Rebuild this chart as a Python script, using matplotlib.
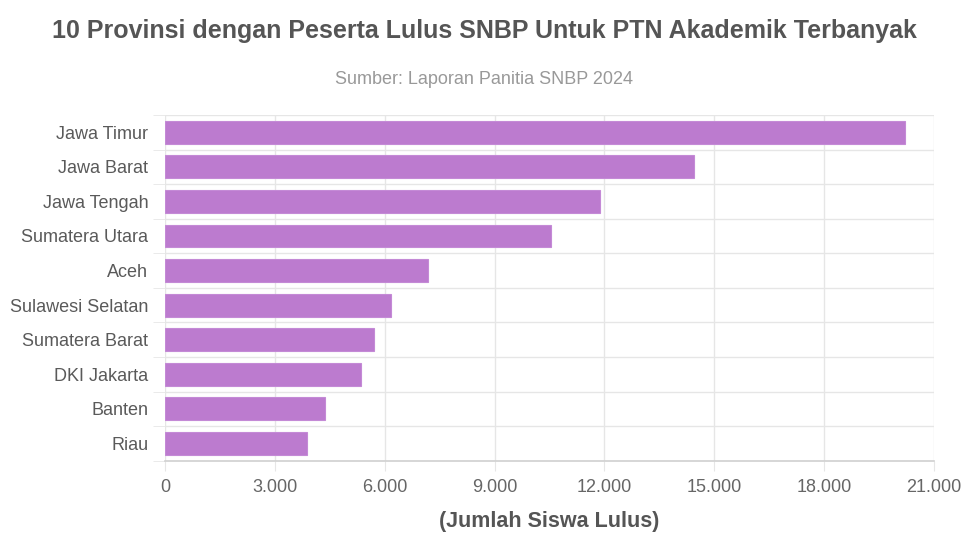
# Grafik batang horizontal: 10 provinsi dengan peserta lulus SNBP terbanyak
import matplotlib.pyplot as plt
from matplotlib.ticker import FuncFormatter, FixedLocator

plt.rcParams['font.family'] = ['Liberation Sans', 'DejaVu Sans']

# data
provinsi = ['Jawa Timur', 'Jawa Barat', 'Jawa Tengah', 'Sumatera Utara', 'Aceh',
            'Sulawesi Selatan', 'Sumatera Barat', 'DKI Jakarta', 'Banten', 'Riau']
jumlah_lulus = [20200, 14450, 11890, 10545, 7180, 6165, 5710, 5365, 4380, 3865]
ticks_x = [0, 3000, 6000, 9000, 12000, 15000, 18000, 21000]

fig = plt.figure(figsize=(9.68, 5.43), dpi=100)
ax = fig.add_axes([0.1705, 0.1516, 0.7944, 0.6366])

pos = list(range(len(provinsi)))
ax.barh(pos, jumlah_lulus, height=0.66, color='#bc7bcf', edgecolor='#c48ad6',
        linewidth=0.8, zorder=3)

ax.set_xlim(0, 21000)
ax.set_ylim(len(provinsi) - 0.5, -0.5)
ax.set_xticks(ticks_x)
ax.xaxis.set_major_formatter(FuncFormatter(lambda v, p: f'{int(v):,}'.replace(',', '.')))
ax.set_yticks(pos)
ax.set_yticklabels(provinsi)
ax.yaxis.set_minor_locator(FixedLocator([i - 0.5 for i in range(len(provinsi) + 1)]))

ax.grid(axis='x', color='#e6e6e6', linewidth=1, zorder=0)
ax.grid(axis='y', which='minor', color='#e6e6e6', linewidth=1, zorder=0)

for s in ['top', 'right', 'left']:
    ax.spines[s].set_visible(False)
ax.spines['bottom'].set_color('#d0d0d0')
ax.spines['bottom'].set_linewidth(1.2)

ax.tick_params(axis='x', length=7, color='#e6e6e6', labelsize=13, labelcolor='#666666', pad=6)
ax.tick_params(axis='y', which='major', length=0, labelsize=13, labelcolor='#5a5a5a', pad=12)
ax.tick_params(axis='y', which='minor', length=9, color='#e6e6e6')

ax.set_xlabel('(Jumlah Siswa Lulus)', fontsize=15.5, fontweight='bold', color='#555555', labelpad=11)

fig.text(0.5, 0.942, '10 Provinsi dengan Peserta Lulus SNBP Untuk PTN Akademik Terbanyak',
         ha='center', va='center', fontsize=18, fontweight='bold', color='#555555')
fig.text(0.5, 0.854, 'Sumber: Laporan Panitia SNBP 2024', ha='center', va='center',
         fontsize=13, color='#999999')

plt.savefig('out.png', dpi=100)
